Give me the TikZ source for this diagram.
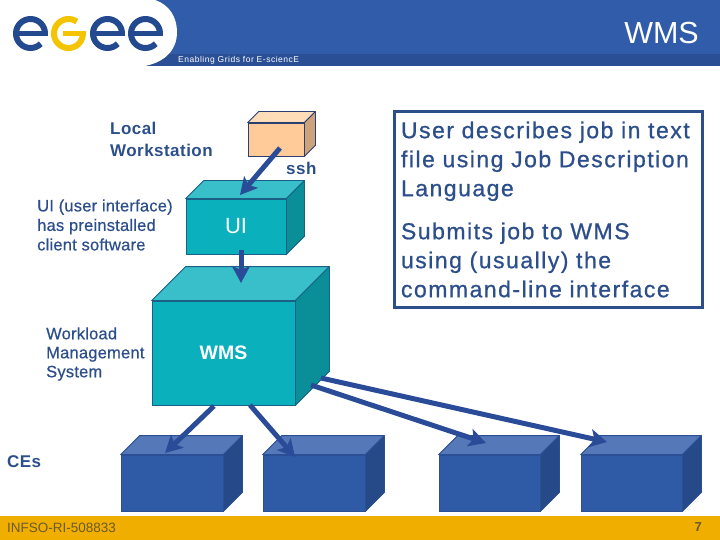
\documentclass[tikz,border=0pt]{standalone}
\usepackage{fontspec}
\setmainfont{Liberation Sans}
\newfontfamily\widemain[LetterSpace=1.3,FakeBold=0.6]{Liberation Sans}
\newfontfamily\widenote[LetterSpace=6.5,FakeBold=0.8]{Liberation Sans}
\newfontfamily\widebold[LetterSpace=2.7]{Liberation Sans}
\newfontfamily\widetag[LetterSpace=6]{Liberation Sans}
\usetikzlibrary{arrows.meta,calc}

\definecolor{headblue}{HTML}{305CAA}
\definecolor{bandblue}{HTML}{2A4F94}
\definecolor{footgold}{HTML}{F0AE00}
\definecolor{labelblue}{HTML}{2C4F8C}
\definecolor{arrowblue}{HTML}{2A4C98}
\definecolor{footgrey}{HTML}{6B5A2A}
\definecolor{egeeblue}{HTML}{23498F}
\definecolor{egeegold}{HTML}{F5C400}
\definecolor{peachfront}{HTML}{FFCC99}
\definecolor{peachtop}{HTML}{FFDDB8}
\definecolor{peachside}{HTML}{CCA37A}
\definecolor{peachedge}{HTML}{2D3F70}
\definecolor{tealfront}{HTML}{0AB0BC}
\definecolor{tealtop}{HTML}{39BFC9}
\definecolor{tealside}{HTML}{0A8F98}
\definecolor{tealedge}{HTML}{1A5F85}
\definecolor{cefront}{HTML}{2F5AA6}
\definecolor{cetop}{HTML}{5478B8}
\definecolor{ceside}{HTML}{264A88}
\definecolor{ceedge}{HTML}{2A4F94}

\tikzset{
    txtlabel/.style={anchor=west,align=left,inner sep=0pt,text=labelblue},
    flow/.style={-{Stealth[length=17pt,width=18pt,inset=4pt]},line width=5pt,arrowblue},
    logoline/.style={line width=6pt},
    front/.style={draw=#1edge,fill=#1front,line width=0.8pt,inner sep=0pt,text=white},
    topface/.style={draw=#1edge,fill=#1top,line width=0.8pt,line join=round},
    sideface/.style={draw=#1edge,fill=#1side,line width=0.8pt,line join=round}
}

% name, colours, front corners, depth, text
\newcommand{\cuboid}[8]{
    \node[front=#2,minimum width={#5-#3},minimum height={#6-#4}] (#1) at ({(#3+#5)/2},{(#4+#6)/2}) {#8};
    \draw[topface=#2] (#1.north west) -- ++(#7,-#7) -- ($(#1.north east)+(#7,-#7)$) -- (#1.north east) -- cycle;
    \draw[sideface=#2] (#1.north east) -- ++(#7,-#7) -- ($(#1.south east)+(#7,-#7)$) -- (#1.south east) -- cycle;
}
\newcommand{\logoe}[2]{
    \draw[logoline,egeeblue] (#1,#2) ++(14.5pt,0pt) arc[start angle=0,end angle=315,radius=14.5pt];
    \draw[logoline,egeeblue,line width=5.5pt] (#1,#2) ++(-14pt,0pt) -- ++(31pt,0pt);
}

\begin{document}
\begin{tikzpicture}[x=1pt,y=-1pt]
    \useasboundingbox (0,0) rectangle (720,540);

    % header and footer
    \fill[headblue] (0,0) rectangle (720,54);
    \fill[bandblue] (0,54) rectangle (720,66);
    \fill[white] (0,0) -- (155,0) .. controls (170,5) and (177,18) .. (177,32) .. controls (177,50) and (165,62) .. (145,66) -- (0,66) -- cycle;
    \fill[footgold] (0,516) rectangle (720,540);

    % logo
    \logoe{30.5}{33.5}
    \draw[logoline,egeegold] (68.5,33.5) ++(55:14.5pt) arc[start angle=55,end angle=360,radius=14.5pt];
    \draw[logoline,egeegold,line width=5.5pt] (63,33.5) -- (85.5,33.5);
    \logoe{107.5}{33.5}
    \logoe{145.5}{33.5}

    \node[anchor=west,inner sep=0pt,text=white,font=\widetag\fontsize{8.5}{9}\selectfont] (tagline) at (178,60.5) {Enabling Grids for E-sciencE};
    \node[anchor=east,inner sep=0pt,text=white,font=\fontsize{30.5}{30.5}\selectfont] (title) at (699,33) {WMS};
    \node[anchor=west,inner sep=0pt,text=footgrey,font=\fontsize{13.5}{13.5}\selectfont] (project) at (7,528) {INFSO-RI-508833};
    \node[anchor=east,inner sep=0pt,text=footgrey,font=\bfseries\fontsize{13}{13}\selectfont] (page) at (702,527) {7};

    % boxes
    \cuboid{station}{peach}{248}{123}{304}{156}{11}{}
    \cuboid{ui}{teal}{186}{199}{286}{254}{18}{\fontsize{22}{22}\selectfont UI}
    \cuboid{wms}{teal}{152}{301}{295}{405}{34}{\bfseries\fontsize{19.5}{19.5}\selectfont WMS}
    \cuboid{ceA}{ce}{121}{455}{223}{511}{19}{}
    \cuboid{ceB}{ce}{263}{455}{365}{511}{19}{}
    \cuboid{ceC}{ce}{439}{455}{540}{511}{19}{}
    \cuboid{ceD}{ce}{581}{455}{682}{511}{19}{}

    % labels
    \node[txtlabel,font=\widebold\bfseries\fontsize{17}{22}\selectfont] (local) at (110,139) {Local\\Workstation};
    \node[txtlabel,font=\widebold\bfseries\fontsize{17}{17}\selectfont] (ssh) at (286,168) {ssh};
    \node[txtlabel,font=\widemain\fontsize{16.5}{19.5}\selectfont] (uitext) at (37,225) {UI (user interface)\\has preinstalled\\client software};
    \node[txtlabel,font=\widemain\fontsize{16.5}{19}\selectfont] (wmstext) at (46,354) {Workload\\Management\\System};
    \node[txtlabel,font=\widebold\bfseries\fontsize{17}{17}\selectfont] (ces) at (7,462) {CEs};
    \node[draw=labelblue,line width=3pt,inner sep=0pt,text=labelblue,minimum width=308,minimum height=196,text width=295,align=left,font=\widenote\fontsize{23}{29}\selectfont] (note) at (548.5,209.5) {User describes job in text\\file using Job Description\\Language\\[14pt]Submits job to WMS\\using (usually) the\\command-line interface};

    % connectors
    \coordinate (stationout) at (280,148);
    \coordinate (uiin) at (240,195);
    \coordinate (uiout) at (241,250);
    \coordinate (wmsin) at (241,283);
    \coordinate (wmsoutA) at (214,406);
    \coordinate (wmsoutB) at (250,405);
    \coordinate (wmsoutC) at (311,385);
    \coordinate (wmsoutD) at (321,378);
    \coordinate (ceAin) at (165,453);
    \coordinate (ceBin) at (295,457);
    \coordinate (ceCin) at (486,443);
    \coordinate (ceDin) at (607,442);

    \draw[flow] (stationout) -- (uiin);
    \draw[flow] (uiout) -- (wmsin);
    \draw[flow] (wmsoutA) -- (ceAin);
    \draw[flow] (wmsoutB) -- (ceBin);
    \draw[flow] (wmsoutC) -- (ceCin);
    \draw[flow] (wmsoutD) -- (ceDin);
\end{tikzpicture}
\end{document}
